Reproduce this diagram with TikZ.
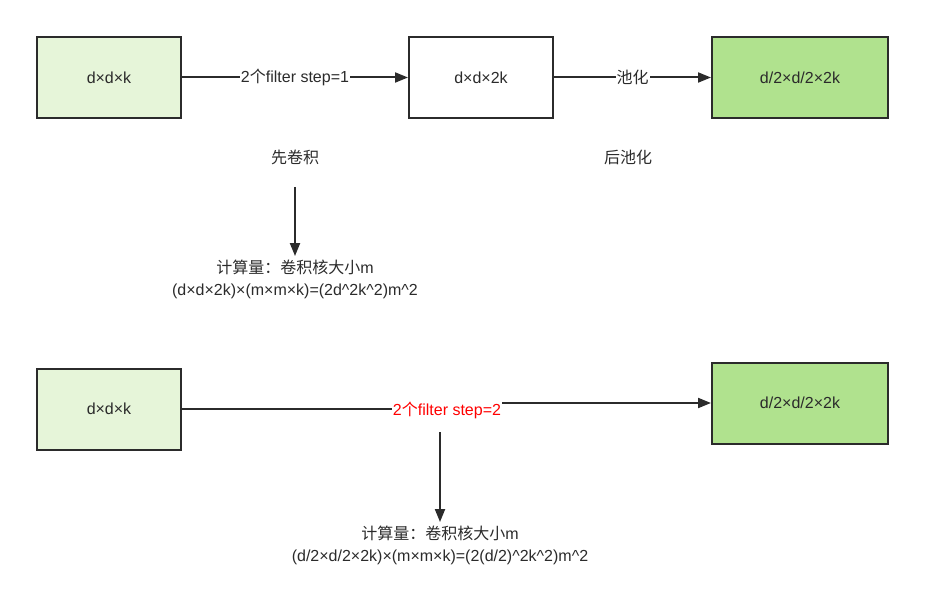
\documentclass[tikz,border=0pt]{standalone}
\usepackage{fontspec}
\setmainfont{Liberation Sans}
\newfontfamily\cjk{Noto Sans CJK SC}
\usetikzlibrary{arrows.meta}
\definecolor{lg}{HTML}{E6F5D9}
\definecolor{dg}{HTML}{B0E28E}
\definecolor{ln}{HTML}{2B2B2B}
\begin{document}
\begin{tikzpicture}[x=1pt,y=-1pt,font=\fontsize{16}{22}\selectfont,text=ln,
  box/.style={draw=ln,line width=2pt,minimum width=144pt,minimum height=81pt,inner sep=0pt},
  arr/.style={draw=ln,line width=2pt,-{Triangle[length=13pt,width=10pt]}},
  lab/.style={fill=white,inner sep=1pt}]
\useasboundingbox (0,0) rectangle (925,609);
\node[box,fill=lg] (a) at (109,77.5) {d×d×k};
\node[box,fill=white] (b) at (481,77.5) {d×d×2k};
\node[box,fill=dg,minimum width=176pt] (c) at (800,77.5) {d/2×d/2×2k};
\draw[arr] (a) -- node[lab]{2{\cjk 个}filter step=1} (b);
\draw[arr] (b) -- node[lab]{\cjk 池化} (c);
\node[font=\cjk\fontsize{16}{22}\selectfont] (t1) at (295,157) {先卷积};
\node[font=\cjk\fontsize{16}{22}\selectfont] (t2) at (628,157) {后池化};
\coordinate (s1) at (295,187);
\node[align=center] (r1) at (295,279) {{\cjk 计算量：卷积核大小}m\\(d×d×2k)×(m×m×k)=(2d\textasciicircum 2k\textasciicircum 2)m\textasciicircum 2};
\draw[arr] (s1) -- (r1.north);
\node[box,fill=lg] (d) at (109,409) {d×d×k};
\node[box,fill=dg,minimum width=176pt] (e) at (800,403) {d/2×d/2×2k};
\node[lab,text=red] (m) at (447,410) {2{\cjk 个}filter step=2};
\draw[draw=ln,line width=2pt] (d.east) -- (d.east -| m.west);
\draw[arr] (m.east |- e.west) -- (e.west);
\coordinate (s2) at (440,432);
\node[align=center] (r2) at (440,545) {{\cjk 计算量：卷积核大小}m\\(d/2×d/2×2k)×(m×m×k)=(2(d/2)\textasciicircum 2k\textasciicircum 2)m\textasciicircum 2};
\draw[arr] (s2) -- (r2.north);
\end{tikzpicture}
\end{document}
